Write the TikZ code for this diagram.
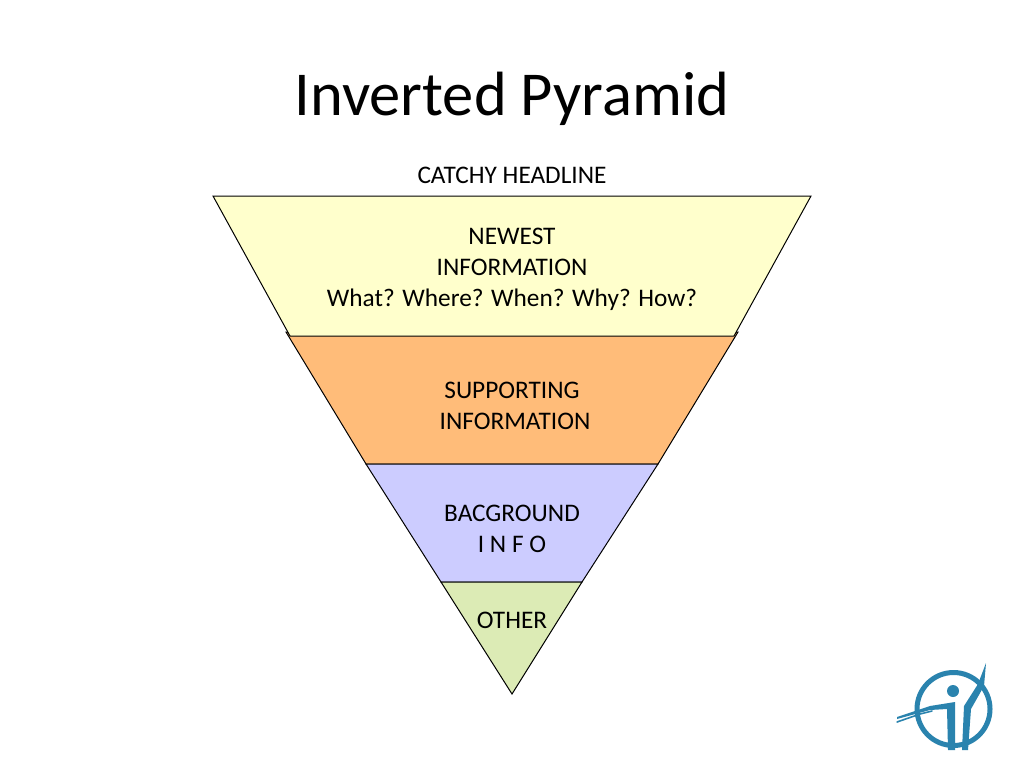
\documentclass[tikz,border=0pt]{standalone}
\usepackage{fontspec}
\setmainfont{Carlito}
\definecolor{ink}{HTML}{000000}
\definecolor{newest}{HTML}{FFFFCC}
\definecolor{support}{HTML}{FFBC79}
\definecolor{backgr}{HTML}{CCCCFF}
\definecolor{other}{HTML}{DCEBB5}
\definecolor{logo}{HTML}{2A83AE}
\begin{document}
\begin{tikzpicture}[x=1pt,y=-1pt,
  layer/.style={draw=ink,line width=1pt,line join=miter},
  lbl/.style={align=center,font=\fontsize{25.3}{31}\selectfont,text=black,inner sep=0pt},
  logoline/.style={draw=logo,line cap=round,line join=round}]
\useasboundingbox (0,0) rectangle (1024,768);
\fill[white] (0,0) rectangle (1024,768);
\filldraw[layer,fill=support] (286,332)--(738,332)--(658,464)--(366,464)--cycle;
\filldraw[layer,fill=newest] (213,196)--(811,196)--(734,336)--(290,336)--cycle;
\filldraw[layer,fill=backgr] (366,464)--(658,464)--(582,582)--(441,582)--cycle;
\filldraw[layer,fill=other] (441,582)--(582,582)--(512,694)--cycle;
\node[font=\fontsize{62.5}{68}\selectfont,inner sep=0pt] (title) at (512,99) {Inverted Pyramid};
\node[lbl] (headline) at (512,175) {CATCHY HEADLINE};
\node[lbl] (news) at (512,269) {NEWEST\\INFORMATION\\What? Where? When? Why? How?};
\node[lbl] (supp) at (512,406) {SUPPORTING\\\hspace{6pt}INFORMATION};
\node[lbl] (back) at (512,529) {BACGROUND\\I N F O};
\node[lbl] (rest) at (512,620) {OTHER};
% logo
\draw[logoline,line width=5pt] (953.5,709) circle (36.5);
\fill[logo] (953,691) circle (6);
\fill[logo] (897,717)--(930,706)--(955,702)--(955,750)--(948,750)--(947,709)--(930,710)--(897,719)--cycle;
\draw[logoline,line width=1.6pt] (897,722)--(920,714)--(932,711);
\fill[logo] (962,750)--(964,706)--(978,684)--(986,663)--(984,686)--(971,709)--(968,750)--cycle;
\end{tikzpicture}
\end{document}
